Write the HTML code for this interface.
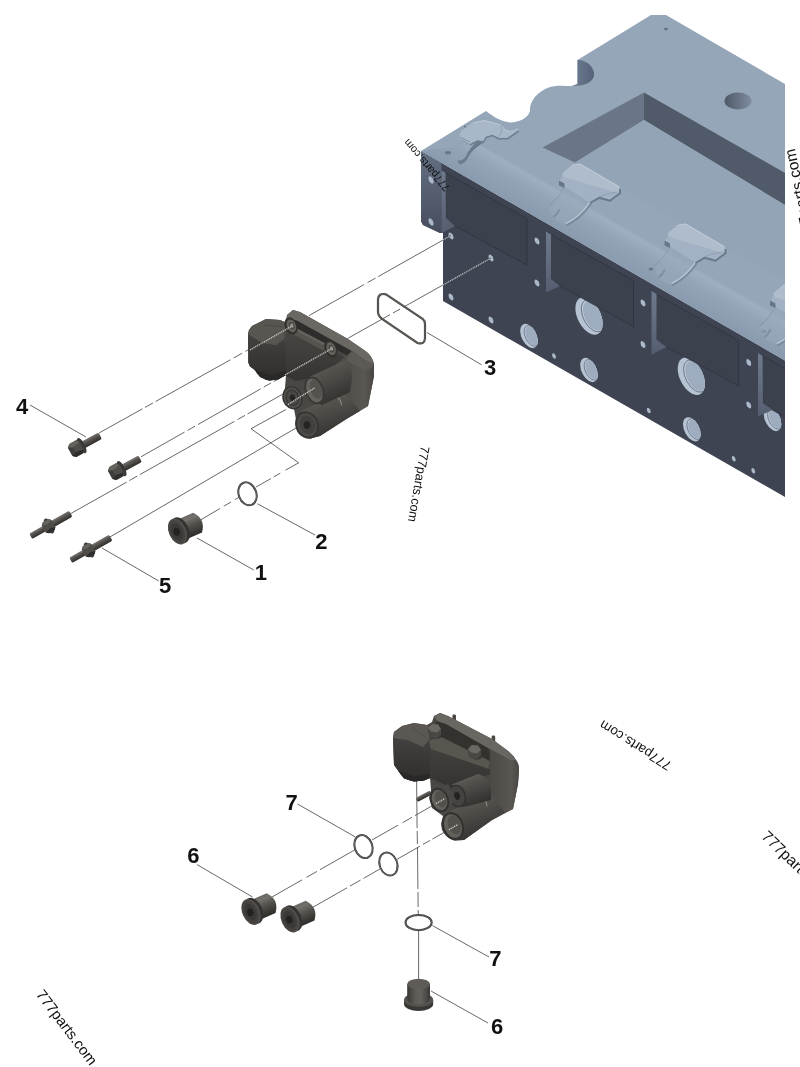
<!DOCTYPE html>
<html><head><meta charset="utf-8"><title>777parts.com</title>
<style>
html,body{margin:0;padding:0;background:#fff;}
body{width:800px;height:1067px;overflow:hidden;position:relative;font-family:"Liberation Sans",sans-serif;}
svg{position:absolute;left:0;top:0;display:block;will-change:transform;}
.num{font-family:"Liberation Sans",sans-serif;font-weight:bold;font-size:22px;fill:#111;}
.wm{font-family:"Liberation Sans",sans-serif;font-size:13.5px;fill:#111;}
</style></head><body>
<svg width="800" height="1067" viewBox="0 0 800 1067">
<defs>
<linearGradient id="gEnd" x1="0" y1="0" x2="0" y2="1"><stop offset="0" stop-color="#647083"/><stop offset="1" stop-color="#474e5d"/></linearGradient>
<linearGradient id="gGus" x1="0" y1="0" x2="0" y2="1"><stop offset="0" stop-color="#6e7a8d"/><stop offset="1" stop-color="#555e6f"/></linearGradient>
<linearGradient id="gHole" x1="0" y1="0" x2="1" y2="0"><stop offset="0" stop-color="#4e5867"/><stop offset="1" stop-color="#7f8da1"/></linearGradient>
<linearGradient id="gNotch" x1="0" y1="0" x2="1" y2="0"><stop offset="0" stop-color="#6f7e92"/><stop offset="1" stop-color="#55627a"/></linearGradient>
<linearGradient id="gBand" gradientUnits="userSpaceOnUse" x1="600" y1="212" x2="581" y2="245"><stop offset="0" stop-color="#96a6b9"/><stop offset="0.1" stop-color="#9fafc1"/><stop offset="0.4" stop-color="#94a4b8"/><stop offset="1" stop-color="#8a9aae"/></linearGradient>
<clipPath id="blockClip"><rect x="0" y="15" width="785" height="600"/></clipPath>

<g id="clip">
<path d="M564,187 Q558,199 548.5,206.5" fill="none" stroke="#7f8fa3" stroke-width="0.9"/>
<path d="M564,186 L590,202 Q580,217 566,224.5 Q552,222 549,206.5 Q558,199 564,186 Z" fill="#98a8bb" opacity="0.6"/>
<path d="M591.2,203.4 Q581,218.4 566.4,225.4" fill="none" stroke="#7b8a9e" stroke-width="2"/>
<path d="M590,202 Q580,217 566,223.5" fill="none" stroke="#c0cbd8" stroke-width="1.2"/>
<path d="M554,216.5 Q558,213.5 559,210" fill="none" stroke="#8090a4" stroke-width="2.2" stroke-linecap="round"/>
<polygon points="559,180.5 562.5,176.5 616,192 620,192.5 610,200 599,197 590,202.5 565,187 559,185.6" fill="#a2b1c3"/>
<polygon points="562.5,173 572,165 580,163.5 619.5,186.5 620,192.5 616,192.5 562.5,176.8" fill="#aebccc"/>
<polygon points="559,180.5 564.5,183.5 564.5,188 559,185.6" fill="#68768a"/>
<path d="M572,165.5 L580,164 L619,186.8" fill="none" stroke="#c3ced9" stroke-width="0.9"/>
<path d="M590,203 L599,197.8 L610,200.8 L620,193.2 L620,189" fill="none" stroke="#6b798d" stroke-width="2" stroke-linejoin="round"/>
<path d="M599,197 Q606,193.5 617,192" fill="none" stroke="#8c9cb0" stroke-width="0.9"/>
</g>
<clipPath id="cB"><circle r="17"/></clipPath><clipPath id="cM"><circle r="11"/></clipPath>
<g id="hB"><circle r="17" fill="#b6c3d2"/><g clip-path="url(#cB)"><circle cx="5" cy="-2.6" r="14.6" fill="#c0cbd8" stroke="#5f6c80" stroke-width="0.9"/><circle cx="6" cy="-3" r="13.6" fill="#9dacbe"/></g></g>
<g id="hM"><circle r="11" fill="#b6c3d2"/><g clip-path="url(#cM)"><circle cx="3.3" cy="-1.7" r="9.4" fill="#c0cbd8" stroke="#5f6c80" stroke-width="0.8"/><circle cx="4" cy="-2" r="8.6" fill="#9dacbe"/></g></g>


<linearGradient id="pTube" x1="0" y1="0" x2="0.45" y2="1"><stop offset="0" stop-color="#77746f"/><stop offset="0.35" stop-color="#56534f"/><stop offset="1" stop-color="#33312f"/></linearGradient>
<linearGradient id="pHead" x1="0" y1="0" x2="0" y2="1"><stop offset="0" stop-color="#444240"/><stop offset="1" stop-color="#2f2d2b"/></linearGradient>
<linearGradient id="pChan" x1="0" y1="0" x2="0" y2="1"><stop offset="0" stop-color="#4b4845"/><stop offset="1" stop-color="#353331"/></linearGradient>
<linearGradient id="pCorner" x1="0" y1="0" x2="1" y2="0"><stop offset="0" stop-color="#4a4744"/><stop offset="0.75" stop-color="#5a5753"/><stop offset="1" stop-color="#494643"/></linearGradient>
<linearGradient id="pShank" x1="0" y1="0" x2="0" y2="1"><stop offset="0" stop-color="#7a7773"/><stop offset="0.4" stop-color="#55524e"/><stop offset="1" stop-color="#2f2d2b"/></linearGradient>

<linearGradient id="pBody" x1="0" y1="0" x2="0" y2="1"><stop offset="0" stop-color="#6a6763"/><stop offset="0.18" stop-color="#74716d"/><stop offset="0.5" stop-color="#53504c"/><stop offset="1" stop-color="#2e2c2a"/></linearGradient>
<linearGradient id="pBodyH" x1="0" y1="0" x2="1" y2="0"><stop offset="0" stop-color="#3a3836"/><stop offset="0.35" stop-color="#5e5b57"/><stop offset="0.6" stop-color="#65625e"/><stop offset="1" stop-color="#3a3836"/></linearGradient>
<g id="bolt">
<rect x="7" y="-3.7" width="21" height="7.4" rx="1.6" fill="url(#pShank)"/>
<ellipse cx="7" cy="0" rx="3.2" ry="8.4" fill="#3b3937"/>
<path d="M-6,-4.8 L-3,-7.4 L5,-7.4 L7,-4.8 L7,4.8 L5,7.4 L-3,7.4 L-6,4.8 Z" fill="#4e4b48"/>
<path d="M-6,-4.8 L-3,-7.4 L5,-7.4 L6,-4 L-1.5,-2.5 Z" fill="#67645f"/>
<path d="M-6,4.8 L-3,7.4 L5,7.4 L6.5,4 L-1.5,3 Z" fill="#2f2d2b"/>
<path d="M-6,-4.8 L-1.5,-2.5 L-1.5,3 L-6,4.8 Z" fill="#3f3d3a"/>
</g>
<g id="stud">
<rect x="-21" y="-3" width="18" height="6" rx="1.4" fill="url(#pShank)"/>
<rect x="3" y="-3.5" width="22" height="7" rx="1.6" fill="url(#pShank)"/>
<ellipse cx="0" cy="0" rx="3.8" ry="8.4" fill="#3b3937"/>
<path d="M-6,-4 L-3.5,-6.4 L3,-6.4 L5,-4 L5,4 L3,6.4 L-3.5,6.4 L-6,4 Z" fill="#4e4b48"/>
<path d="M-6,-4 L-3.5,-6.4 L3,-6.4 L5,-4 L-0.5,-2 Z" fill="#66635f"/>
<path d="M-6,4 L-3.5,6.4 L3,6.4 L5,4 L-0.5,2.5 Z" fill="#2f2d2b"/>
</g>
<g id="plug">
<path d="M2,-10.8 L22,-10.8 Q26.5,-5.5 26.5,0 Q26.5,5.5 22,10.8 L2,10.8 Z" fill="url(#pBody)"/>
<ellipse cx="3" cy="0" rx="8.6" ry="13.6" fill="#353331"/>
<ellipse cx="0" cy="0" rx="8.6" ry="13.6" fill="#55524e"/>
<ellipse cx="-0.6" cy="0" rx="7.6" ry="12.4" fill="#45423f"/>
<ellipse cx="-0.6" cy="0" rx="5.4" ry="9" fill="#3b3937"/>
<polygon points="-3.8,-2.2 -0.8,-4.4 2.2,-2.6 2.2,2.2 -0.8,4.4 -3.8,2.6" fill="#242221"/>
</g>
<g id="oring">
<ellipse rx="8.8" ry="11.8" fill="none" stroke="#3f3c3a" stroke-width="2"/>
<ellipse rx="8.8" ry="11.8" fill="none" stroke="#85827e" stroke-width="0.5"/>
</g>
</defs>
<rect width="800" height="1067" fill="#fff"/>
<!-- BLOCK -->
<g id="block" clip-path="url(#blockClip)">
<!-- front face -->
<polygon points="421,151 785,360.4 785,497 443,301 443,233 440,233 423,225 421,221" fill="#3e4452"/>
<!-- end strip -->
<polygon points="421,151 441.5,163 441.5,233 440,233 423,225 421,221" fill="url(#gEnd)"/>
<!-- top face -->
<path d="M421,151 L486,111 C494,117 500,121 510,122.5 C520,122 528,118 530,111 C529,104 535,92 550,87 C558,85 564,86 572,86 L577.5,84 L577.5,60 L651,15 L666,15 L785,84 L785,360.4 Z" fill="#96a6b9"/>
<!-- notch wall -->
<path d="M577.5,60 C588,60 595,68 594,76 C592,83 584,86 572,86 L577.5,84 Z" fill="url(#gNotch)"/>
<!-- band near edge -->
<polygon points="479,144 785,319 785,360.4 421,151" fill="url(#gBand)"/>
<!-- pocket -->
<polygon points="644,92.5 542.5,147.5 575,162.5 644,120" fill="#6a7687"/>
<polygon points="644,92.5 785,173 785,205 644,120" fill="#515a68"/>
<polygon points="644,120 575,162.5 785,281 785,205" fill="#94a4b7"/>
<!-- top holes -->
<ellipse cx="666" cy="29" rx="1.8" ry="1.3" fill="#5d6b7e"/>
<ellipse cx="738" cy="101" rx="13.5" ry="8.5" fill="url(#gHole)"/>
<ellipse cx="448" cy="152.8" rx="3" ry="1.8" fill="#6a788b"/>
<ellipse cx="651" cy="269" rx="2.5" ry="1.6" fill="#6a788b"/>
<ellipse cx="764" cy="331.4" rx="2.5" ry="1.6" fill="#6a788b"/>

<g id="clip1">
<path d="M478,141 Q470,147 466,156 Q463,161 458,160.5 Q456.5,162.5 460.5,164.5 Q466,163 469.5,155 Q474,148 484,142.5 Z" fill="#6d7b8e"/>
<polygon points="461,131 465,128 473,122.5 484,120 501,124.4 505,129.5 510,131 518,128 518.75,131 507.5,138.75 498.75,138.75 492.5,135.6 486,137.5 483.75,142 477.5,141 470,145 459,140 459,136" fill="#a9b8c9"/>
<path d="M459,137 L470,142 M460,139.5 L470,144.5" stroke="#7d8ca0" stroke-width="0.9" fill="none"/>
<path d="M470,145 L477.5,141 L483.75,142 L486,137.5 L492.5,135.6 L498.75,138.75 L507.5,138.75 L518.75,131" fill="none" stroke="#6f7d91" stroke-width="1.6" stroke-linejoin="round"/>
<path d="M473,123 L484,120.5 L501,125 L505,130 L510,131.5" fill="none" stroke="#bdc9d6" stroke-width="0.9"/>
<path d="M501,124.4 Q504,131 498,137" fill="none" stroke="#93a3b7" stroke-width="1"/>
<ellipse cx="465" cy="126.6" rx="1" ry="0.8" fill="#5f6d80"/>
</g>
<use href="#clip"/>
<use href="#clip" transform="translate(105.5,60)"/>
<use href="#clip" transform="translate(211,120)"/>

<use href="#hB" transform="matrix(0.8,0.456,0,1,589,316)"/>
<use href="#hB" transform="matrix(0.8,0.456,0,1,691.3,376.3)"/>
<use href="#hM" transform="matrix(0.8,0.456,0,1,529,336)"/>
<use href="#hM" transform="matrix(0.8,0.456,0,1,589,370)"/>
<use href="#hM" transform="matrix(0.8,0.456,0,1,691.8,429.3)"/>
<use href="#hM" transform="matrix(0.8,0.456,0,1,772.5,419)"/>

<polygon points="445,172.5 527,218.5 527,265 455,226 446,218" fill="#3c414e" stroke="#2f343f" stroke-width="0.8"/>
<polygon points="441.5,170.5 445.5,172.8 446,218 455,226 442,233 441.5,233" fill="url(#gGus)"/>
<polygon points="547.5,232.5 633.5,280.9 633.5,326.5 560,286 551,279" fill="#3c414e" stroke="#2f343f" stroke-width="0.8"/>
<polygon points="546,231.5 551,234.5 551,279 560,286 546,292.5" fill="url(#gGus)"/>
<polygon points="653,292.5 738.75,340.5 738.75,386 666.5,347 656.5,339.5" fill="#3c414e" stroke="#2f343f" stroke-width="0.8"/>
<polygon points="651.5,291 656.5,294 656.5,339.5 666.5,347 651.5,354.5" fill="url(#gGus)"/>
<polygon points="760,354.5 790,371.3 790,420 772.5,410 763,403" fill="#3c414e" stroke="#2f343f" stroke-width="0.8"/>
<polygon points="758,353 762.5,355.8 763,403 772.5,410 758,416.5" fill="url(#gGus)"/>
<circle r="3.1" fill="#aab8c9" transform="matrix(0.8,0.456,0,1,451,236)"/>
<circle r="3.1" fill="#aab8c9" transform="matrix(0.8,0.456,0,1,491,258)"/>
<circle r="3.1" fill="#aab8c9" transform="matrix(0.8,0.456,0,1,451,297)"/>
<circle r="3.1" fill="#aab8c9" transform="matrix(0.8,0.456,0,1,491,320)"/>
<circle r="3.1" fill="#aab8c9" transform="matrix(0.8,0.456,0,1,537,241)"/>
<circle r="3.1" fill="#aab8c9" transform="matrix(0.8,0.456,0,1,537,283)"/>
<circle r="3.1" fill="#aab8c9" transform="matrix(0.8,0.456,0,1,643,303)"/>
<circle r="3.1" fill="#aab8c9" transform="matrix(0.8,0.456,0,1,643,344.5)"/>
<circle r="3.1" fill="#aab8c9" transform="matrix(0.8,0.456,0,1,748.75,362.5)"/>
<circle r="3.1" fill="#aab8c9" transform="matrix(0.8,0.456,0,1,748.75,405)"/>
<circle r="2.4" fill="#aab8c9" transform="matrix(0.8,0.456,0,1,554,356)"/>
<circle r="2.4" fill="#aab8c9" transform="matrix(0.8,0.456,0,1,648.75,410.5)"/>
<circle r="2.4" fill="#aab8c9" transform="matrix(0.8,0.456,0,1,733.75,458.75)"/>
<circle r="2.4" fill="#aab8c9" transform="matrix(0.8,0.456,0,1,753.25,470.75)"/>
<circle r="3.2" fill="#aab8c9" transform="matrix(0.8,0.456,0,1,431,180)"/>
<circle r="3.2" fill="#aab8c9" transform="matrix(0.8,0.456,0,1,431,222)"/>

</g>

<g id="lines" fill="none" stroke="#4d4d4d" stroke-width="0.85">
<path d="M99.0,433.0 L142.5,408.8 M145.0,407.4 L153.0,402.9 M155.6,401.5 L230.4,359.8 M233.8,357.9 L242.2,353.2 M245.4,351.4 L291.0,326.0"/>
<path d="M309.0,315.6 L364.0,284.6 M367.6,282.5 L375.5,278.1 M378.2,276.6 L451.0,235.5"/>
<path d="M141.0,456.8 L184.5,432.1 M187.6,430.4 L195.0,426.2 M198.0,424.5 L260.6,388.9 M263.8,387.1 L271.0,383.0 M273.7,381.5 L331.0,349.0"/>
<path d="M347.4,338.6 L390.0,314.7 M393.0,313.0 L400.0,309.1 M403.5,307.1 L491.0,258.0"/>
<path d="M70.0,514.0 L126.7,482.1 M129.4,480.5 L137.2,476.1 M139.9,474.6 L234.4,421.4 M237.5,419.6 L245.0,415.4 M247.5,414.0 L283.0,394.0"/>
<path d="M110.0,537.0 L296.0,428.0"/>
<path d="M286,409.5 L251,428.7 L298.7,462.8 L285.5,470.2 M280.3,473.2 L273.7,476.9 M271,478.5 L256,487 M239,497.3 L235,499.6 M231,502 L223.8,506.2 M220,508.5 L200,520.3"/>
<path d="M272.0,897.0 L302.0,879.9 M306.5,877.4 L317.0,871.4 M320.0,869.7 L356.0,849.2 M372.0,840.0 L398.0,825.2 M402.5,822.7 L412.0,817.3 M415.0,815.6 L437.0,803.0"/>
<path d="M312.5,907.5 L347.0,887.8 M350.0,886.1 L360.5,880.1 M363.5,878.4 L381.0,868.4 M397.0,859.3 L420.0,846.2 M423.0,844.4 L430.0,840.4 M432.4,839.1 L449.0,829.6"/>
<path d="M416.6,780 L417.1,828 M417.2,831 L417.4,844 M417.5,847 L417.9,889 M418,892 L418.1,907 M418.2,910 L418.3,916 M418.6,931 L418.6,980"/>
</g>
<g stroke="#c4c8cf" stroke-width="1.2" stroke-dasharray="1.2,0.8" fill="none">
<path d="M443,285 L490,258.6"/>
<path d="M443,240 L450,236"/>
</g>
<g id="leaders" fill="none" stroke="#4d4d4d" stroke-width="0.85">
<path d="M30,405 L86,437"/>
<path d="M102,548 L158.8,581"/>
<path d="M197,538 L253.8,570"/>
<path d="M257.5,503.8 L315,535"/>
<path d="M427,332.5 L481.5,364.8"/>
<path d="M297.5,804 L355.4,837"/>
<path d="M197,864.6 L252.5,897"/>
<path d="M432.4,925.6 L489,957"/>
<path d="M431,991 L488,1023"/>
</g>


<g id="bracket1">
<!-- silhouette -->
<path d="M248,334 L249,330 L252,326 L266,319 L280,320 L285.6,322.4 L287,315 L293,310 L300,312 L348,339 L364,350 Q372,355 374,364 L374,376 L368,406 L348,418 L320,436 L310,438.4 Q302,437 298,430 L294,409 L287,404 L283.6,396 L285,388 L286,375 L278,379.5 L269,380.6 L260,377 L255.5,370.5 L250,366.5 L248.3,362.5 Z" fill="#494643"/>
<!-- head front -->
<path d="M248,334 L262,343 L276,345 L284,339 L286,345 L286,375 L278,379.5 L269,380.6 L260,377 L255.5,370.5 L250,366.5 L248.3,362.5 Z" fill="url(#pHead)"/>
<!-- head top -->
<path d="M248,334 L249,330 L252,326 L266,319 L280,320 L285.6,322.4 L284,339 L276,345 L262,343 Z" fill="#595652"/>
<path d="M264,325 L283,327" stroke="#4b4845" stroke-width="0.8" fill="none"/>
<!-- head bottom boss -->
<path d="M254,369 Q260,380 270,380.6 L278,379.5 L286,375 L286,371 L270,375 Z" fill="#2a2827"/>
<!-- channel -->
<path d="M286,324 L346,358 L346,382 L330,374 L296,381 L286,376 Z" fill="url(#pChan)"/>
<path d="M287,321 L296,320 L352,351 L350,357 L294,327 L287,327 Z" fill="#2f2d2b"/>
<path d="M294,327 L328,345 L327,352.5 L293,334.5 Z" fill="#57544f"/>
<path d="M294,327 L328,345 L328,347.5 L294,329.5 Z" fill="#65625e"/>
<!-- flange top -->
<path d="M287,315 L293,310 L300,312 L348,339 L364,350 Q372,355 374,364 L367,361.5 L352,351 L296,320 L288,321.5 Z" fill="#6b6864"/>
<!-- right corner block -->
<path d="M336,364 L352,351 L367,361.5 L374,364 L374,376 L368,406 L348,418 L336,412 Z" fill="url(#pCorner)"/>
<path d="M352,351 L367,361.5 L374,364 Q371,372 360,368 L346,360 Z" fill="#5d5a56"/>
<!-- bolt bosses -->
<g transform="translate(291,326) rotate(-22)"><ellipse rx="6.2" ry="9" fill="#34322f"/><ellipse cx="0.4" rx="4.4" ry="6.6" fill="#67645f"/><ellipse cx="0.8" rx="2.6" ry="4" fill="#4a4744"/><ellipse cx="1" rx="1.4" ry="2.2" fill="#9a9793"/></g>
<g transform="translate(330.8,348.8) rotate(-22)"><ellipse rx="6.2" ry="9" fill="#34322f"/><ellipse cx="0.4" rx="4.4" ry="6.6" fill="#67645f"/><ellipse cx="0.8" rx="2.6" ry="4" fill="#4a4744"/><ellipse cx="1" rx="1.4" ry="2.2" fill="#9a9793"/></g>
<!-- lower tube -->
<path d="M301,411 L340,393 L348,396 L360,411 L348,418 L320,436 L310,438.4 Z" fill="url(#pTube)"/>
<path d="M337.5,397 Q341,400 341.5,405" fill="none" stroke="#8a8783" stroke-width="1.2" stroke-linecap="round"/>
<g transform="translate(307,425) rotate(-20)"><ellipse rx="11.6" ry="14" fill="#383634"/><ellipse rx="9.8" ry="12" fill="#4d4a47"/><ellipse cx="0.5" rx="7.4" ry="9.4" fill="#423f3d"/><polygon points="-3.2,-1.8 0,-4.2 3.2,-2.6 3.2,1.8 0,4.2 -3.2,2.6" fill="#262423"/></g>
<!-- upper tube -->
<path d="M309,377 L345,360.5 Q352,366 352,378 L350,392 L321,405.5 Z" fill="url(#pTube)"/>
<g transform="translate(314.4,390.4) rotate(-20)"><ellipse rx="9.4" ry="14.4" fill="#3a3836"/><ellipse rx="7.6" ry="12.4" fill="#676460"/><ellipse cx="1.8" cy="-0.6" rx="5.6" ry="10" fill="#56534f"/></g>
<!-- left plug -->
<g transform="translate(292.4,397.8) rotate(-20)"><ellipse rx="10" ry="11.8" fill="#353331"/><ellipse rx="8.6" ry="10.4" fill="#52504c"/><ellipse rx="6.8" ry="8.4" fill="#383634"/><ellipse rx="5.6" ry="7.2" fill="#4a4744"/><polygon points="-2.6,-1.6 0,-3.6 2.6,-2.2 2.6,1.6 0,3.6 -2.6,2.2" fill="#262423"/></g>
<!-- white dotted axis lines inside -->
<g stroke="#d2d0cd" stroke-width="1.3" stroke-dasharray="1.2,0.8" fill="none">
<path d="M250,350 L291.5,326.3"/>
<path d="M285,375 L331,349"/>
<path d="M288,404.5 L314.5,388"/>
</g>
</g>
<g id="smallparts">
<use href="#bolt" transform="translate(75.5,449) rotate(-28.5)"/>
<use href="#bolt" transform="translate(115.5,472) rotate(-28.5)"/>
<use href="#stud" transform="translate(49,526) rotate(-29.5)"/>
<use href="#stud" transform="translate(89,550) rotate(-29.5)"/>
<use href="#plug" transform="translate(177.5,531.5) rotate(-24)"/>
<use href="#oring" transform="translate(247.5,493.8) rotate(-20)"/>
<!-- gasket 3 -->
<path d="M386,294.4 L422.6,318.8 Q425,320.6 425,324 L425,338.5 Q424.4,345 417.5,343 L382.4,319.2 Q378,316 378,311.5 L378,299.5 Q378.4,292.6 386,294.4 Z" fill="none" stroke="#45423f" stroke-width="2.2"/>
<path d="M386,294.4 L422.6,318.8 Q425,320.6 425,324 L425,338.5 Q424.4,345 417.5,343 L382.4,319.2 Q378,316 378,311.5 L378,299.5 Q378.4,292.6 386,294.4 Z" fill="none" stroke="#8a8783" stroke-width="0.5"/>
<!-- lower assembly -->
<use href="#plug" transform="translate(251,912) rotate(-24)"/>
<use href="#plug" transform="translate(290,919.5) rotate(-24)"/>
<use href="#oring" transform="translate(363.5,846.6) rotate(-20)"/>
<use href="#oring" transform="translate(388.4,864) rotate(-20)"/>
<ellipse cx="418.6" cy="922.6" rx="13.1" ry="7.6" fill="none" stroke="#3f3c3a" stroke-width="2"/>
<ellipse cx="418.6" cy="922.6" rx="13.1" ry="7.6" fill="none" stroke="#85827e" stroke-width="0.5"/>
<!-- plug 6b vertical -->
<path d="M404,1000 L404,1004 A14.6,7 0 0 0 433.2,1004 L433.2,1000 Z" fill="#3a3836"/>
<ellipse cx="418.6" cy="1000" rx="14.6" ry="7" fill="#55524e"/>
<path d="M407.2,984 L407.2,999 A11.4,5.4 0 0 0 430,999 L430,984 Z" fill="url(#pBodyH)"/>
<ellipse cx="418.6" cy="984" rx="11.4" ry="5.2" fill="#5f5c58"/>
</g>


<g id="bracket2">
<!-- studs on top -->
<rect x="452.4" y="714.5" width="3.6" height="10" rx="1.4" fill="#4a4744"/>
<rect x="491.6" y="735.5" width="3.6" height="11" rx="1.4" fill="#4a4744"/>
<!-- left stud -->
<g transform="translate(417.5,799.5) rotate(-28)"><rect x="-1" y="-2.2" width="16" height="4.4" rx="1.6" fill="url(#pShank)"/></g>
<!-- silhouette -->
<path d="M393,738 L394,732 L402,726 L414,723 L427,725 L432,722 L434,716 L440,713 L448,716 L492,739 L504,748 Q513,754 516,760 Q519.5,765 519,770 L518,784 L513,809 L492,820 L464,840 L454,840.6 Q446,838 442,830 L441,824 L443,816 L432,808 L429,798 L431,790 L430,778 L424,780.6 L414,781.6 L404,778.4 L399.5,772.5 L394,765 Z" fill="#494643"/>
<!-- head front -->
<path d="M393,738 L408,740 L423,747 L429,740 L430,745 L430,778 L424,780.6 L414,781.6 L404,778.4 L399.5,772.5 L394,765 Z" fill="url(#pHead)"/>
<path d="M398,770.5 Q403,780 414,781.6 L424,780.6 L430,778 L430,774 L414,776.5 Z" fill="#2a2827"/>
<!-- head top -->
<path d="M393,738 L394,732 L402,726 L414,723 L427,725 L430,728 L429,740 L423,747 L408,740 Z" fill="#5b5854"/>
<path d="M412,727.5 L428,739" stroke="#4d4a47" stroke-width="0.8" fill="none"/>
<!-- channel -->
<path d="M430,728 L437,721 L490,751 L492,774 L470,780 L452,788 L430,778 Z" fill="url(#pChan)"/>
<path d="M436,721 L446,724 L489,748.5 L490,762 L438,735 L434,730 Z" fill="#34322f"/>
<path d="M429,741 L440,736.5 L490,761 L489,769 L431,749 Z" fill="#59564f"/>
<!-- flange top -->
<path d="M434,716 L440,713 L448,716 L492,739 L504,748 Q513,754 516,760 L510,760 L488,748 L446,724 L437,721 Z" fill="#6a6763"/>
<!-- right block -->
<path d="M490,751 L488,748 L510,760 L516,760 Q519.5,765 519,770 L518,784 L513,809 L492,820 L490,790 Z" fill="url(#pCorner)"/>
<!-- bolt heads -->
<ellipse cx="435" cy="733" rx="7.5" ry="5" fill="#35332f" transform="rotate(28 435 733)"/>
<path d="M428,728 L432,724 L438,724.5 L441,729 L441,735 L437,738.5 L431,737.5 L428,733 Z" fill="#4a4744"/>
<path d="M428,728 L432,724 L438,724.5 L441,729 L437,732.5 L431,731.5 Z" fill="#6b6864"/>
<ellipse cx="475" cy="754" rx="7.5" ry="5" fill="#35332f" transform="rotate(28 475 754)"/>
<path d="M468,749 L472,745 L478,745.5 L481,750 L481,756 L477,759.5 L471,758.5 L468,754 Z" fill="#4a4744"/>
<path d="M468,749 L472,745 L478,745.5 L481,750 L477,753.5 L471,752.5 Z" fill="#6b6864"/>
<!-- lower tube -->
<path d="M449,812 L486,794 L492,797 L505,812 L492,820 L464,840 L454,840.6 Z" fill="url(#pTube)"/>
<path d="M483,798 Q486.5,801 487,806" fill="none" stroke="#8a8783" stroke-width="1.2" stroke-linecap="round"/>
<g transform="translate(453,826) rotate(-20)"><ellipse rx="10.6" ry="14.4" fill="#33312f"/><ellipse rx="8.6" ry="12.2" fill="#64615d"/><ellipse cx="1.8" cy="-0.6" rx="6.4" ry="10" fill="#54514d"/></g>
<!-- upper-right plug tube -->
<path d="M452,784.5 L478,774 Q488,776 491,788 L491,800 L462,807.5 Z" fill="url(#pTube)"/>
<g transform="translate(457,796) rotate(-20)"><ellipse rx="9" ry="11.6" fill="#343230"/><ellipse rx="7.4" ry="10" fill="#45423f"/><polygon points="-3,-1.8 0,-4.2 3,-2.6 3,1.8 0,4.2 -3,2.6" fill="#242221"/></g>
<!-- upper-left open tube -->
<path d="M436,789 L448,784 L456,800 L445,811 Z" fill="#4a4744"/>
<g transform="translate(439.5,800) rotate(-20)"><ellipse rx="9.2" ry="12.6" fill="#33312f"/><ellipse rx="7.4" ry="10.6" fill="#64615d"/><ellipse cx="1.6" cy="-0.5" rx="5.4" ry="8.6" fill="#54514d"/></g>
<g stroke="#d2d0cd" stroke-width="1.3" stroke-dasharray="1.2,0.8" fill="none">
<path d="M436,803.6 L445,798.5"/>
<path d="M449,829.6 L458,824.5"/>
</g>
</g>

<!-- PARTS5 -->

<g class="num" text-anchor="middle">
<text x="22" y="413.5">4</text>
<text x="490" y="375">3</text>
<text x="321.3" y="548.8">2</text>
<text x="260.8" y="580">1</text>
<text x="165" y="593.3">5</text>
<text x="291.5" y="810">7</text>
<text x="193.4" y="862.5">6</text>
<text x="495.4" y="966">7</text>
<text x="497" y="1034">6</text>
</g>


<g class="wm">
<text transform="translate(450.5,187.5) rotate(-130.5)" font-size="10.7">777parts.com</text>
<text transform="translate(421,445.5) rotate(99.8)" font-size="12.7">777parts.com</text>
<text transform="translate(794.7,148) rotate(-102)" font-size="15.6" text-anchor="end">777parts.com</text>
<text transform="translate(672.5,763.3) rotate(-147.8)" font-size="13.5">777parts.com</text>
<text transform="translate(760.7,837.3) rotate(44)" font-size="15.5">777parts.com</text>
<text transform="translate(35.4,994.6) rotate(52.7)" font-size="14.9">777parts.com</text>
</g>

</svg>
</body></html>
